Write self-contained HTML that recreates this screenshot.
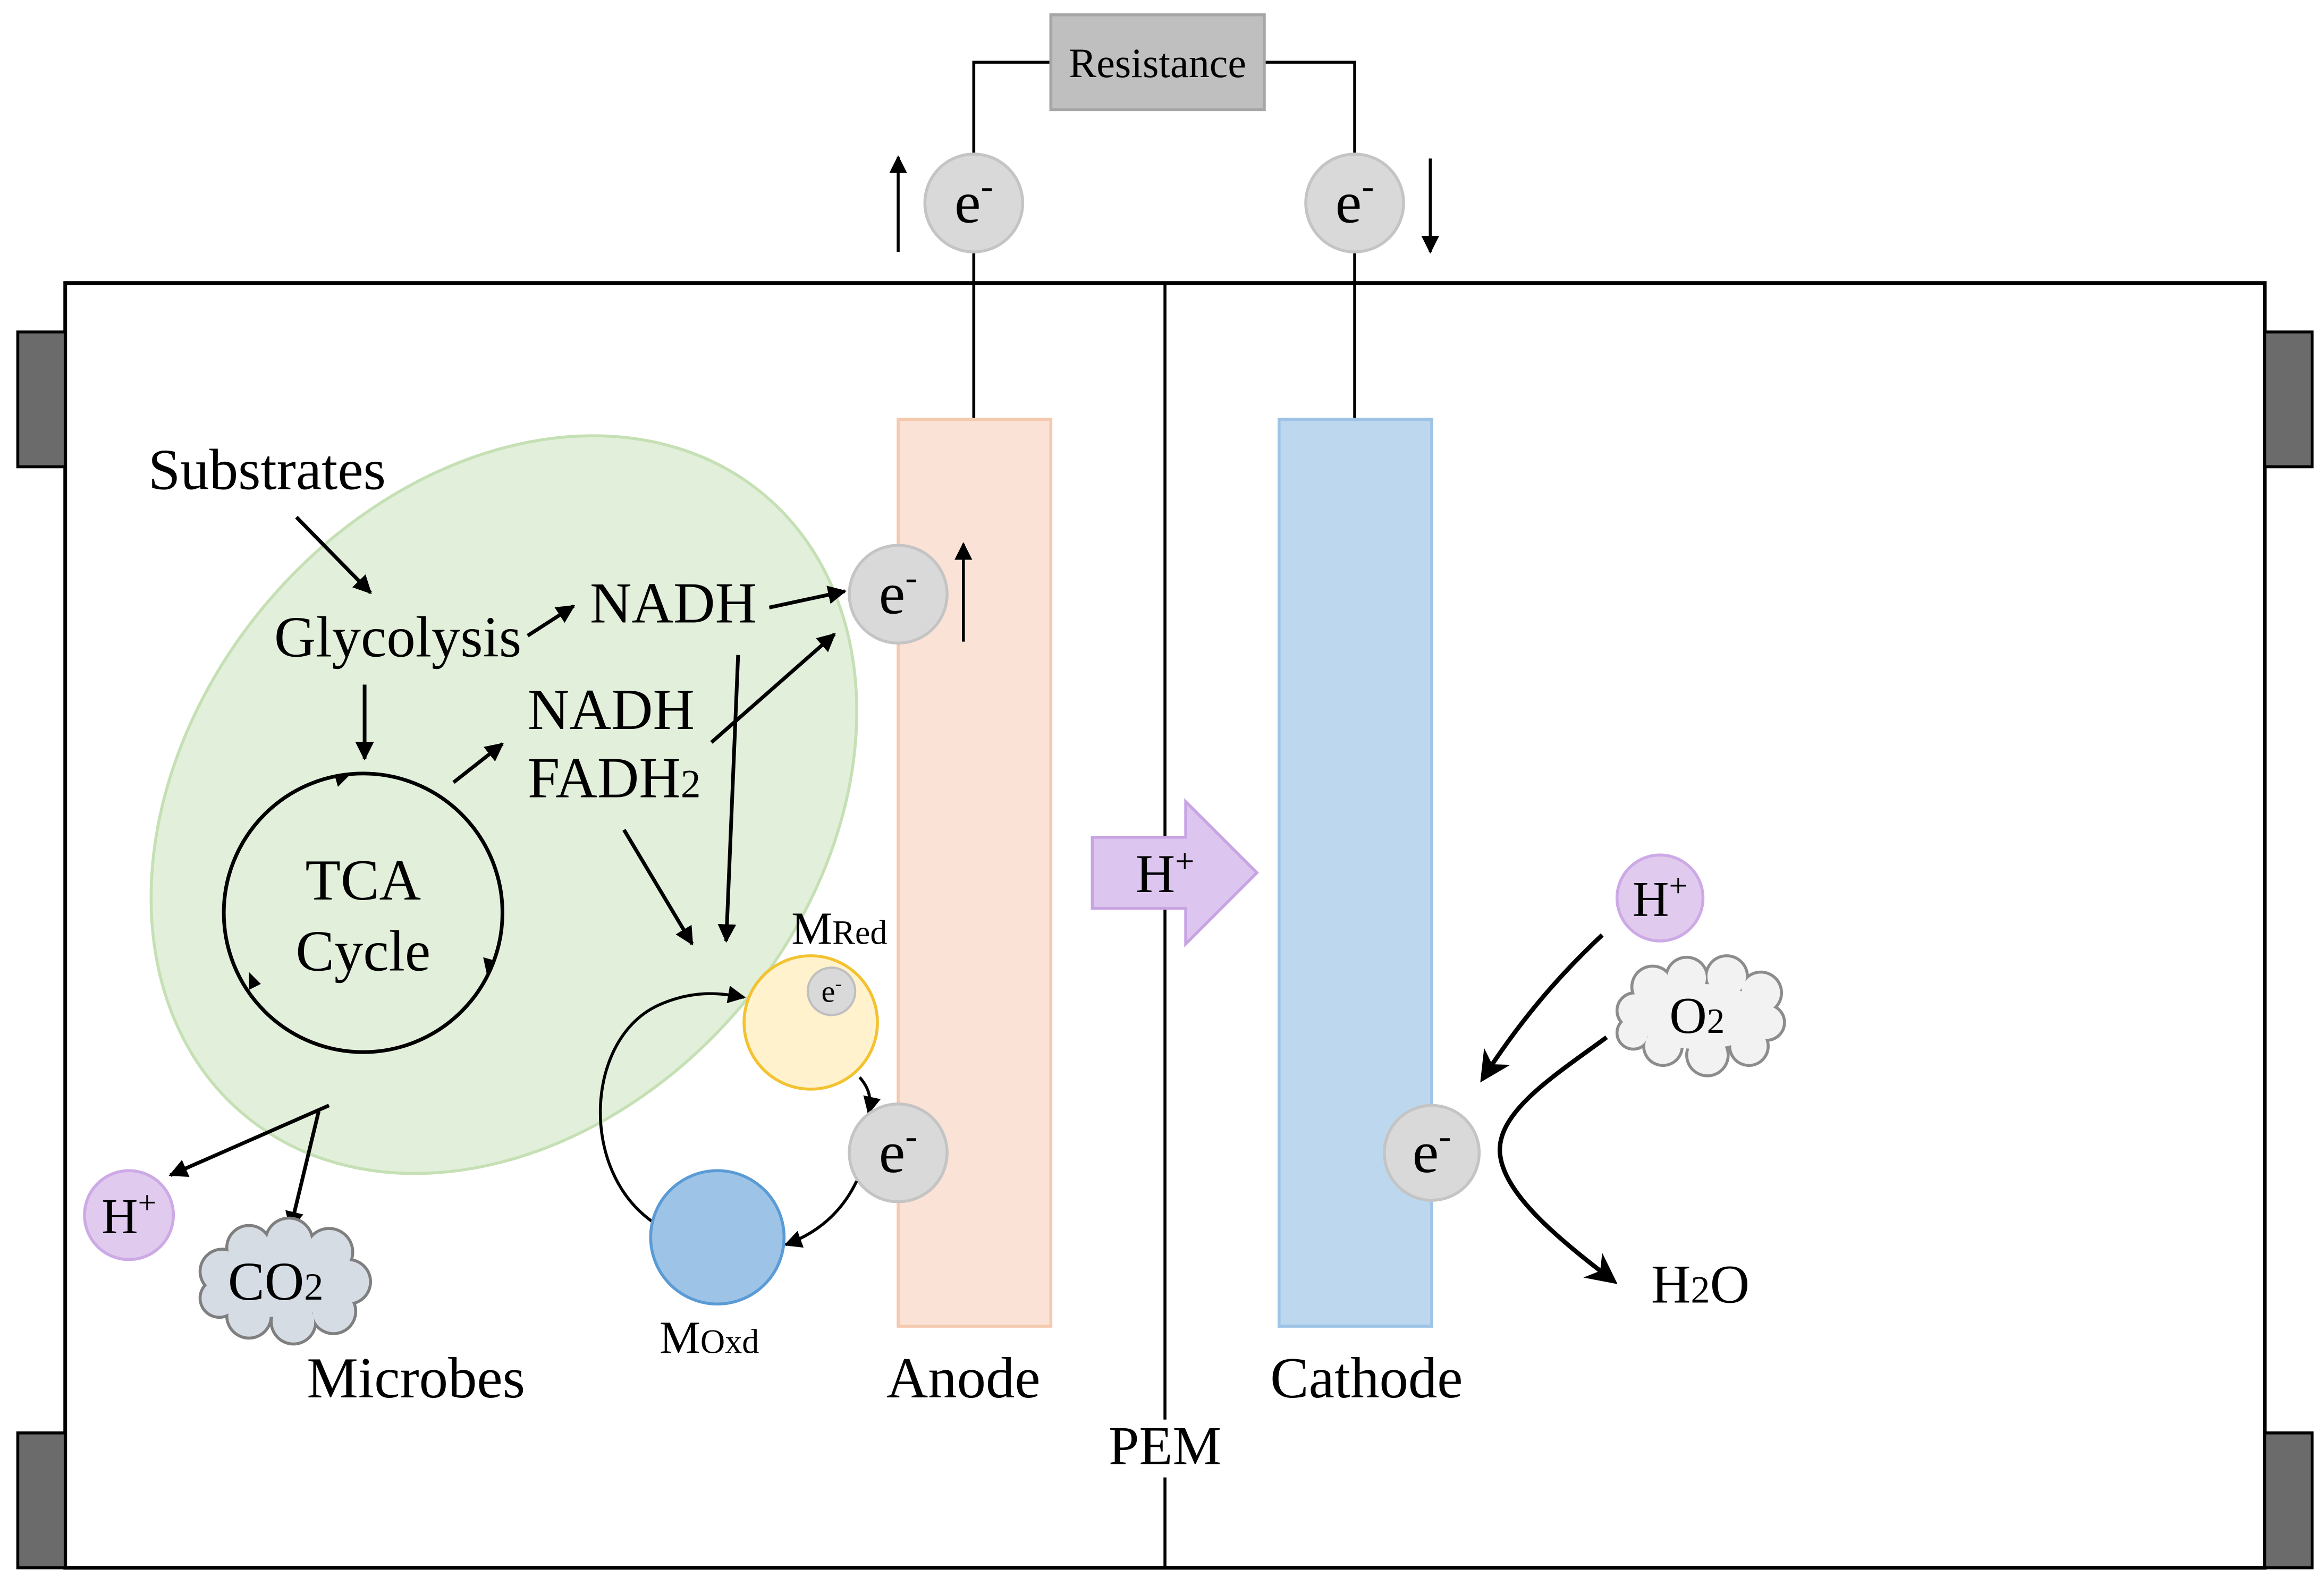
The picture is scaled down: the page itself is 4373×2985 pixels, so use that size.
<!DOCTYPE html>
<html><head><meta charset="utf-8"><style>
html,body{margin:0;padding:0;background:#fff;}
svg{display:block;}
text{font-family:"Liberation Serif",serif;fill:#000;}
</style></head><body>
<svg width="4373" height="2985" viewBox="0 0 1568 1070.3" preserveAspectRatio="none" xmlns="http://www.w3.org/2000/svg">
<defs>
<marker id="ah" viewBox="0 0 10 10" refX="9" refY="5" markerWidth="5" markerHeight="5" orient="auto" markerUnits="strokeWidth">
<path d="M0,0 L10,5 L0,10 z" fill="#000"/></marker>
<marker id="ahs" viewBox="0 0 10 10" refX="9" refY="5" markerWidth="6" markerHeight="6" orient="auto" markerUnits="strokeWidth">
<path d="M0,0 L10,5 L0,10 z" fill="#000"/></marker>
<marker id="big" viewBox="0 0 10 10" refX="8" refY="5" markerWidth="7" markerHeight="7" orient="auto" markerUnits="strokeWidth">
<path d="M0,0 L10,5 L0,10 L3,5 z" fill="#000"/></marker>
</defs>

<rect x="44" y="191" width="1484" height="867" fill="#fff" stroke="#000" stroke-width="2.5"/>
<rect x="12" y="224" width="32" height="91" fill="#6b6b6b" stroke="#000" stroke-width="2"/>
<rect x="12" y="967" width="32" height="91" fill="#6b6b6b" stroke="#000" stroke-width="2"/>
<rect x="1528" y="224" width="32" height="91" fill="#6b6b6b" stroke="#000" stroke-width="2"/>
<rect x="1528" y="967" width="32" height="91" fill="#6b6b6b" stroke="#000" stroke-width="2"/>

<line x1="786" y1="191" x2="786" y2="958" stroke="#000" stroke-width="2"/>
<line x1="786" y1="997" x2="786" y2="1058" stroke="#000" stroke-width="2"/>
<text x="786" y="988" font-size="37" text-anchor="middle">PEM</text>

<polyline points="709,42 657,42 657,283" fill="none" stroke="#000" stroke-width="2"/>
<polyline points="853,42 914,42 914,283" fill="none" stroke="#000" stroke-width="2"/>
<rect x="709" y="10" width="144" height="64" fill="#bfbfbf" stroke="#a6a6a6" stroke-width="2"/>
<text x="781" y="52" font-size="28" text-anchor="middle">Resistance</text>

<g fill="#d9d9d9" stroke="#c4c4c4" stroke-width="2">
<circle cx="657" cy="137" r="33"/>
<circle cx="914" cy="137" r="33"/>
</g>
<text x="657" y="150" font-size="40" text-anchor="middle">e<tspan dy="-16" font-size="25">-</tspan></text>
<text x="914" y="150" font-size="40" text-anchor="middle">e<tspan dy="-16" font-size="25">-</tspan></text>
<line x1="606" y1="170" x2="606" y2="106" stroke="#000" stroke-width="2" marker-end="url(#ahs)"/>
<line x1="965" y1="107" x2="965" y2="170" stroke="#000" stroke-width="2" marker-end="url(#ahs)"/>

<rect x="606" y="283" width="103" height="612" fill="#fae3d6" stroke="#f4c9ad" stroke-width="2"/>
<rect x="863" y="283" width="103" height="612" fill="#bdd7ee" stroke="#9dc3e6" stroke-width="2"/>

<ellipse cx="340" cy="543" rx="273" ry="210" transform="rotate(-50 340 543)" fill="#e2efda" stroke="#c5e0b4" stroke-width="2"/>

<text x="100" y="330" font-size="39">Substrates</text>
<line x1="200" y1="349" x2="250" y2="400" stroke="#000" stroke-width="2.5" marker-end="url(#ah)"/>
<text x="185" y="443" font-size="39">Glycolysis</text>
<line x1="356" y1="429" x2="387" y2="409" stroke="#000" stroke-width="2.5" marker-end="url(#ah)"/>
<text x="398" y="420" font-size="39">NADH</text>
<line x1="519" y1="410" x2="570" y2="399" stroke="#000" stroke-width="2.5" marker-end="url(#ah)"/>
<line x1="246" y1="462" x2="246" y2="512" stroke="#000" stroke-width="2.5" marker-end="url(#ah)"/>

<circle cx="245" cy="616" r="94" fill="none" stroke="#000" stroke-width="2.5"/>
<path d="M226,524 l12,-3 l-10,10 z" fill="#000"/>
<path d="M333,648 l-4,12 l-3,-14 z" fill="#000"/>
<path d="M168,668 l0,-12 l8,8 z" fill="#000"/>
<text x="245" y="607" font-size="39" text-anchor="middle">TCA</text>
<text x="245" y="655" font-size="39" text-anchor="middle">Cycle</text>

<line x1="306" y1="528" x2="339" y2="502" stroke="#000" stroke-width="2.5" marker-end="url(#ah)"/>
<text x="356" y="492" font-size="39">NADH</text>
<text x="356" y="538" font-size="39">FADH<tspan font-size="27">2</tspan></text>
<line x1="480" y1="501" x2="563" y2="428" stroke="#000" stroke-width="2.5" marker-end="url(#ah)"/>
<line x1="498" y1="442" x2="490" y2="635" stroke="#000" stroke-width="2.5" marker-end="url(#ah)"/>
<line x1="421" y1="560" x2="467" y2="637" stroke="#000" stroke-width="2.5" marker-end="url(#ah)"/>

<circle cx="606" cy="401" r="33" fill="#d9d9d9" stroke="#c4c4c4" stroke-width="2"/>
<text x="606" y="414" font-size="40" text-anchor="middle">e<tspan dy="-16" font-size="25">-</tspan></text>
<line x1="650" y1="433" x2="650" y2="367" stroke="#000" stroke-width="2" marker-end="url(#ahs)"/>

<text x="534" y="637" font-size="31">M<tspan font-size="23">Red</tspan></text>
<circle cx="547" cy="690" r="45" fill="#fff2cc" stroke="#f2c230" stroke-width="2"/>
<circle cx="561" cy="669" r="16" fill="#d9d9d9" stroke="#bfbfbf" stroke-width="1.5"/>
<text x="561" y="676" font-size="21" text-anchor="middle">e<tspan dy="-8" font-size="13">-</tspan></text>
<path d="M441,825 C390,790 395,700 445,678 C468,668 485,670 502,673" fill="none" stroke="#000" stroke-width="2" marker-end="url(#ahs)"/>
<path d="M580,727 C587,735 588,742 586,751" fill="none" stroke="#000" stroke-width="2" marker-end="url(#ahs)"/>
<circle cx="606" cy="778" r="33" fill="#d9d9d9" stroke="#c4c4c4" stroke-width="2"/>
<text x="606" y="791" font-size="40" text-anchor="middle">e<tspan dy="-16" font-size="25">-</tspan></text>
<path d="M578,797 C568,818 552,832 530,840" fill="none" stroke="#000" stroke-width="2" marker-end="url(#ahs)"/>
<circle cx="484" cy="835" r="45" fill="#9dc3e6" stroke="#5b9bd5" stroke-width="2"/>
<text x="445" y="913" font-size="31">M<tspan font-size="23">Oxd</tspan></text>

<line x1="222" y1="746" x2="115" y2="793" stroke="#000" stroke-width="2.5" marker-end="url(#ah)"/>
<line x1="215" y1="750" x2="196" y2="829" stroke="#000" stroke-width="2.5" marker-end="url(#ah)"/>
<circle cx="87" cy="820" r="30" fill="#e0cbef" stroke="#cda9e6" stroke-width="2"/>
<text x="87" y="832" font-size="34" text-anchor="middle">H<tspan dy="-13" font-size="22">+</tspan></text>

<g stroke="#7f7f7f" stroke-width="4">
<circle cx="150" cy="858" r="14"/><circle cx="168" cy="842" r="14"/><circle cx="195" cy="838" r="15"/><circle cx="222" cy="845" r="15"/><circle cx="235" cy="865" r="14"/><circle cx="225" cy="885" r="14"/><circle cx="198" cy="892" r="14"/><circle cx="168" cy="888" r="14"/><circle cx="148" cy="876" r="12"/>
</g>
<g fill="#d6dce4">
<circle cx="150" cy="858" r="14"/><circle cx="168" cy="842" r="14"/><circle cx="195" cy="838" r="15"/><circle cx="222" cy="845" r="15"/><circle cx="235" cy="865" r="14"/><circle cx="225" cy="885" r="14"/><circle cx="198" cy="892" r="14"/><circle cx="168" cy="888" r="14"/><circle cx="148" cy="876" r="12"/>
<ellipse cx="190" cy="865" rx="42" ry="24"/>
</g>
<text x="186" y="877" font-size="37" text-anchor="middle">CO<tspan font-size="26">2</tspan></text>

<text x="207" y="943" font-size="39">Microbes</text>
<text x="598" y="943" font-size="39">Anode</text>
<text x="857" y="943" font-size="39">Cathode</text>

<path d="M737,565 L800,565 L800,541 L848,589 L800,637 L800,613 L737,613 z" fill="#dcc5ee" stroke="#c8a4e3" stroke-width="2"/>
<text x="786" y="602" font-size="37" text-anchor="middle">H<tspan dy="-13" font-size="23">+</tspan></text>

<circle cx="1120" cy="606" r="29" fill="#e0cbef" stroke="#cda9e6" stroke-width="2"/>
<text x="1120" y="618" font-size="34" text-anchor="middle">H<tspan dy="-13" font-size="22">+</tspan></text>

<g stroke="#8c8c8c" stroke-width="4">
<circle cx="1103" cy="682" r="11"/><circle cx="1115" cy="666" r="13"/><circle cx="1138" cy="660" r="13"/><circle cx="1165" cy="659" r="13"/><circle cx="1188" cy="670" r="13"/><circle cx="1192" cy="690" r="11"/><circle cx="1180" cy="706" r="12"/><circle cx="1152" cy="712" r="13"/><circle cx="1122" cy="706" r="12"/><circle cx="1102" cy="697" r="10"/>
</g>
<g fill="#f2f2f2">
<circle cx="1103" cy="682" r="11"/><circle cx="1115" cy="666" r="13"/><circle cx="1138" cy="660" r="13"/><circle cx="1165" cy="659" r="13"/><circle cx="1188" cy="670" r="13"/><circle cx="1192" cy="690" r="11"/><circle cx="1180" cy="706" r="12"/><circle cx="1152" cy="712" r="13"/><circle cx="1122" cy="706" r="12"/><circle cx="1102" cy="697" r="10"/>
<ellipse cx="1147" cy="686" rx="44" ry="22"/>
</g>
<text x="1145" y="697" font-size="35" text-anchor="middle">O<tspan font-size="24">2</tspan></text>

<path d="M1081,631 C1050,660 1025,690 1001,727" fill="none" stroke="#000" stroke-width="3" marker-end="url(#big)"/>
<circle cx="966" cy="778" r="32" fill="#d9d9d9" stroke="#c4c4c4" stroke-width="2"/>
<text x="966" y="791" font-size="40" text-anchor="middle">e<tspan dy="-16" font-size="25">-</tspan></text>
<path d="M1084,700 C1050,725 1010,750 1012,778 C1014,805 1050,835 1088,864" fill="none" stroke="#000" stroke-width="3" marker-end="url(#big)"/>
<text x="1114" y="879" font-size="37">H<tspan font-size="26">2</tspan>O</text>
</svg>
</body></html>
